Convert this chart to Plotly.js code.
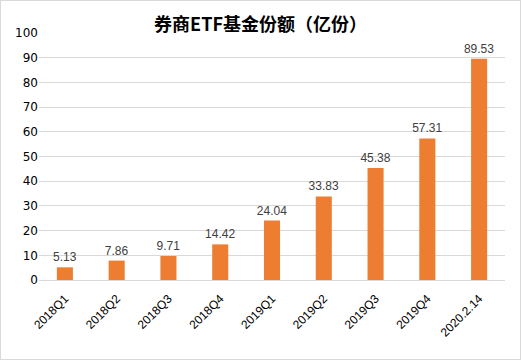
<!DOCTYPE html>
<html><head><meta charset="utf-8">
<script src="https://cdn.plot.ly/plotly-3.0.1.min.js"></script>
<style>html,body{margin:0;padding:0;background:#fff}#c{width:521px;height:360px;box-sizing:border-box;border:1px solid #d9d9d9}</style>
</head><body><div id="c"></div>
<script>
const categories = ["2018Q1","2018Q2","2018Q3","2018Q4","2019Q1","2019Q2","2019Q3","2019Q4","2020.2.14"];
const values = [5.13,7.86,9.71,14.42,24.04,33.83,45.38,57.31,89.53];
const yTicks = [0,10,20,30,40,50,60,70,80,90,100];
Plotly.newPlot('c',[{
  type:'bar', x:categories, y:values,
  marker:{color:'#ED7D31'},
  width:0.31,
  text:values.map(v=>v.toFixed(2)), textposition:'outside', constraintext:'none',
  textfont:{family:'Liberation Sans, Arial, sans-serif',size:12,color:'#404040'},
  cliponaxis:false, hoverinfo:'none'
}],{
  width:519,height:358,
  margin:{l:38,r:15,t:32,b:79},
  paper_bgcolor:'#fff',plot_bgcolor:'#fff',
  title:{text:'<b>券商ETF基金份额（亿份）</b>',x:0.5,xanchor:'center',y:0.935,yanchor:'middle',
    font:{family:'Noto Sans CJK SC, sans-serif',size:18,color:'#000'}},
  xaxis:{type:'category',tickangle:-45,showgrid:false,showline:false,ticks:'outside',ticklen:6,tickcolor:'rgba(0,0,0,0)',
    tickfont:{family:'Liberation Sans, Arial, sans-serif',size:12,color:'#000'}},
  yaxis:{range:[0,100],tickvals:yTicks,showgrid:true,gridcolor:'#d9d9d9',gridwidth:1,
    zeroline:true,zerolinecolor:'#d9d9d9',showline:false,ticks:'',ticklen:0,
    tickfont:{family:'DejaVu Sans, sans-serif',size:12,color:'#000'}},
  bargap:0.69,showlegend:false
},{displayModeBar:false,staticPlot:true});
</script></body></html>
